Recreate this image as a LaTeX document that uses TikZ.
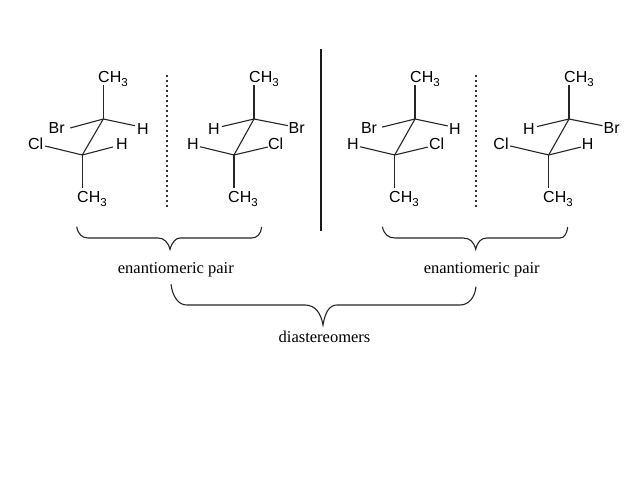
\documentclass[tikz,border=0pt]{standalone}
\usepackage{fontspec}
\setmainfont{Liberation Sans}
\newfontfamily\capfont{Liberation Serif}
\newcommand{\methyl}{CH\smash{\raisebox{-3.5pt}{\fontsize{11.5}{11.5}\selectfont 3}}}
\tikzset{
  atomlab/.style={inner xsep=1.5pt,inner ysep=2pt,font=\fontsize{16}{16}\selectfont},
  toplab/.style={anchor=base west,inner xsep=0pt,inner ysep=2pt,font=\fontsize{16}{16}\selectfont},
  botlab/.style={anchor=base west,inner xsep=0pt,inner ysep=4pt,font=\fontsize{16}{16}\selectfont},
  caplab/.style={inner sep=0pt,font=\capfont\fontsize{16.5}{16.5}\selectfont},
  carbon/.style={inner sep=0pt,minimum size=0pt},
  bond/.style={line width=1.1pt,draw=black!85},
  mirror/.style={line width=1.6pt,dash pattern=on 1.8pt off 3.2pt,draw=black!80},
  divider/.style={line width=1.3pt,draw=black!90},
  bracket/.style={line width=1.1pt,draw=black!85}
}
\begin{document}
\begin{tikzpicture}[x=1pt,y=-1pt]
\useasboundingbox[fill=white] (0,0) rectangle (638,478);
% molecule A
\coordinate (a1) at (103.3,119); \coordinate (a2) at (82.3,155);
\node[toplab] (am1) at (98,83) {\methyl};
\node[botlab] (am2) at (77,203) {\methyl};
\node[atomlab,inner xsep=5.3pt] (abr) at (56.7,128) {Br};
\node[atomlab,inner xsep=2.2pt] (ah1) at (143,129) {H};
\node[atomlab,inner xsep=1.8pt] (acl) at (35.7,144) {Cl};
\node[atomlab,inner xsep=3.2pt] (ah2) at (122,144) {H};
\draw[bond] (a1) -- (a1 |- am1.south);
\draw[bond] (a2) -- (a2 |- am2.north);
\draw[bond] (a1) -- (a2);
\draw[bond] (a1) -- (abr.east);
\draw[bond] (a1) -- (ah1.158);
\draw[bond] (a2) -- (acl.348);
\draw[bond] (a2) -- (ah2.198);
% molecule B
\coordinate (b1) at (254,119); \coordinate (b2) at (234,155);
\node[toplab] (bm1) at (249,83) {\methyl};
\node[botlab] (bm2) at (228,203) {\methyl};
\node[atomlab,inner xsep=1.9pt] (bh1) at (214,129) {H};
\node[atomlab,inner xsep=0.7pt] (bbr) at (296.7,128) {Br};
\node[atomlab,inner xsep=1.2pt] (bh2) at (193,144) {H};
\node[atomlab,inner xsep=0.2pt] (bcl) at (275.7,144) {Cl};
\draw[bond] (b1) -- (b1 |- bm1.south);
\draw[bond] (b2) -- (b2 |- bm2.north);
\draw[bond] (b1) -- (b2);
\draw[bond] (b1) -- (bh1.17);
\draw[bond] (b1) -- (bbr.165);
\draw[bond] (b2) -- (bh2.339);
\draw[bond] (b2) -- (bcl.201);
% molecule C
\coordinate (c1) at (415,119); \coordinate (c2) at (394.7,155);
\node[toplab] (cm1) at (410,83) {\methyl};
\node[botlab] (cm2) at (389,203) {\methyl};
\node[atomlab,inner xsep=5pt] (cbr) at (369,128) {Br};
\node[atomlab,inner xsep=1.2pt] (ch1) at (455,129) {H};
\node[atomlab,inner xsep=1.2pt] (ch2) at (353,144) {H};
\node[atomlab,inner xsep=1.2pt] (ccl) at (436.7,144) {Cl};
\draw[bond] (c1) -- (c1 |- cm1.south);
\draw[bond] (c2) -- (c2 |- cm2.north);
\draw[bond] (c1) -- (c2);
\draw[bond] (c1) -- (cbr.4);
\draw[bond] (c1) -- (ch1.157);
\draw[bond] (c2) -- (ch2.339);
\draw[bond] (c2) -- (ccl.199);
% molecule D
\coordinate (d1) at (569,119); \coordinate (d2) at (548.7,155);
\node[toplab] (dm1) at (564,83) {\methyl};
\node[botlab] (dm2) at (543,203) {\methyl};
\node[atomlab,inner xsep=1.9pt] (dh1) at (529,129) {H};
\node[atomlab,inner xsep=1pt] (dbr) at (611.7,128) {Br};
\node[atomlab,inner xsep=1.5pt] (dcl) at (501,144) {Cl};
\node[atomlab,inner xsep=0.9pt] (dh2) at (587.7,144) {H};
\draw[bond] (d1) -- (d1 |- dm1.south);
\draw[bond] (d2) -- (d2 |- dm2.north);
\draw[bond] (d1) -- (d2);
\draw[bond] (d1) -- (dh1.17);
\draw[bond] (d1) -- (dbr.166);
\draw[bond] (d2) -- (dcl.348);
\draw[bond] (d2) -- (dh2.204);
% mirror planes and divider
\draw[mirror] (167,75) -- (167,208);
\draw[mirror] (476,75) -- (476,208);
\draw[divider] (321,49) -- (321,231);
% braces
\draw[bracket] (76.7,226.7) .. controls (78,234) and (82,238) .. (88,238) -- (158,238)
  .. controls (164,238) and (168,242) .. (170,249.3)
  .. controls (172,242) and (176,238) .. (180,238) -- (251.7,238)
  .. controls (257,238) and (261,234) .. (261.7,227);
\draw[bracket] (382.3,226.7) .. controls (384,234) and (388,238) .. (395,238) -- (463,238)
  .. controls (470,238) and (474,242) .. (475.7,249.3)
  .. controls (477.5,242) and (481,238) .. (487,238) -- (560,238)
  .. controls (564,238) and (567,234) .. (567.7,227);
\draw[bracket] (171,284.3) .. controls (172.5,296) and (178,305) .. (186.7,305) -- (305,305)
  .. controls (315,305) and (321,313) .. (323,325)
  .. controls (325,313) and (329,305) .. (337,305) -- (460,305)
  .. controls (469,305) and (475,297) .. (476,286.7);
% captions
\node[caplab] (pair1) at (175.8,270) {enantiomeric pair};
\node[caplab] (pair2) at (481.7,270) {enantiomeric pair};
\node[caplab] (dia) at (324.5,337) {diastereomers};
\end{tikzpicture}
\end{document}
